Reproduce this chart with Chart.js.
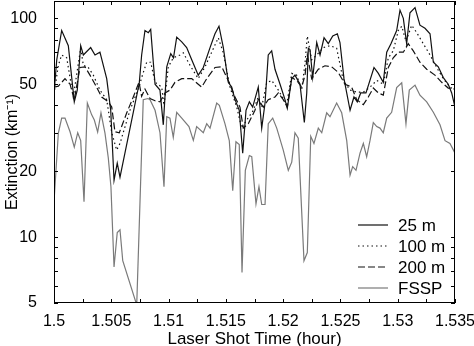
<!DOCTYPE html>
<html>
<head>
<meta charset="utf-8">
<script src="https://cdn.jsdelivr.net/npm/chart.js@4"></script>
<style>
  html, body { margin: 0; padding: 0; background: #fff; }
  #c { display: block; }
</style>
</head>
<body>
<canvas id="c" width="474" height="346"></canvas>
<script>
// Laser shot time (hour) and extinction (km-1) for each resolution
const m25Time = [1.50000, 1.50024, 1.50067, 1.50125, 1.50177, 1.50203, 1.50233, 1.50256, 1.50320, 1.50358,
  1.50401, 1.50460, 1.50495, 1.50524, 1.50552, 1.50576, 1.50744, 1.50765, 1.50794, 1.50823,
  1.50844, 1.50882, 1.50925, 1.50954, 1.50984, 1.51019, 1.51043, 1.51071, 1.51115, 1.51158,
  1.51202, 1.51259, 1.51303, 1.51362, 1.51405, 1.51440, 1.51478, 1.51521, 1.51551, 1.51580,
  1.51617, 1.51647, 1.51676, 1.51705, 1.51734, 1.51783, 1.51813, 1.51842, 1.51870, 1.51900,
  1.51929, 1.51973, 1.52016, 1.52036, 1.52075, 1.52103, 1.52147, 1.52185, 1.52206, 1.52220,
  1.52234, 1.52258, 1.52293, 1.52322, 1.52357, 1.52394, 1.52433, 1.52473, 1.52496, 1.52531,
  1.52584, 1.52618, 1.52647, 1.52677, 1.52723, 1.52793, 1.52831, 1.52874, 1.52904, 1.52941,
  1.52991, 1.53020, 1.53049, 1.53078, 1.53107, 1.53151, 1.53194, 1.53238, 1.53282, 1.53311,
  1.53354, 1.53398, 1.53441, 1.53471, 1.53500];
const m25Ext = [45.6, 64.6, 88, 75, 41.5, 47, 75, 68, 73.5, 68,
  70, 53, 38, 18.2, 21.8, 18.8, 50.5, 68, 88, 86,
  89, 50, 47, 32.6, 60, 69, 66, 82, 78, 73.5,
  64.6, 55, 59.6, 73.5, 85, 92, 73.5, 51, 48.5, 42.5,
  38, 24.2, 38, 41.5, 39.3, 48.5, 31.5, 41, 68, 71,
  58.5, 50, 42.5, 38.8, 53, 55, 50, 33.4, 45.6, 73,
  72, 53.6, 77.5, 68, 81.5, 76.6, 83, 85, 77.5, 53,
  38, 43.7, 41.5, 45.6, 45.6, 59.6, 56, 51, 70, 76.6,
  88, 109, 100, 76.6, 106, 112, 93, 90, 85, 63,
  60, 53.6, 50, 45.6, 39.3];

const m100Time = [1.50000, 1.50038, 1.50067, 1.50111, 1.50168, 1.50233, 1.50256, 1.50299, 1.50343, 1.50401,
  1.50460, 1.50504, 1.50547, 1.50576, 1.50663, 1.50742, 1.50765, 1.50809, 1.50844, 1.50882,
  1.50940, 1.50960, 1.50998, 1.51041, 1.51100, 1.51129, 1.51187, 1.51259, 1.51318, 1.51376,
  1.51434, 1.51478, 1.51536, 1.51595, 1.51638, 1.51682, 1.51740, 1.51783, 1.51813, 1.51856,
  1.51900, 1.51958, 1.52031, 1.52075, 1.52118, 1.52162, 1.52191, 1.52211, 1.52249, 1.52293,
  1.52350, 1.52409, 1.52467, 1.52525, 1.52584, 1.52642, 1.52700, 1.52758, 1.52817, 1.52874,
  1.52918, 1.52961, 1.53005, 1.53035, 1.53072, 1.53122, 1.53166, 1.53223, 1.53282, 1.53340,
  1.53398, 1.53456, 1.53500];
const m100Ext = [45, 61, 68, 66, 43.7, 73, 61, 59.6, 55, 47,
  42.5, 30, 25, 26.8, 38, 48.5, 53.6, 63, 63, 51,
  48.5, 40, 60, 66, 68, 69.5, 61, 53, 60, 70,
  81.5, 69.5, 48.5, 39.3, 31.5, 34.3, 38, 43.7, 39.3, 50.7,
  52, 47, 40.3, 56, 55, 47, 62.5, 83, 64.6, 68,
  73.5, 75, 73, 52, 47, 46, 46, 48.5, 52, 50,
  66, 71, 88, 92, 78.5, 93, 86, 76.6, 68, 59.6,
  53, 48.5, 47];

const m200Time = [1.50000, 1.50038, 1.50096, 1.50140, 1.50177, 1.50227, 1.50271, 1.50314, 1.50358, 1.50416,
  1.50474, 1.50504, 1.50532, 1.50570, 1.50635, 1.50692, 1.50742, 1.50765, 1.50794, 1.50838,
  1.50882, 1.50925, 1.50969, 1.51012, 1.51056, 1.51115, 1.51202, 1.51259, 1.51289, 1.51333,
  1.51405, 1.51464, 1.51521, 1.51580, 1.51623, 1.51652, 1.51696, 1.51754, 1.51783, 1.51827,
  1.51870, 1.51929, 1.51958, 1.52001, 1.52036, 1.52075, 1.52118, 1.52162, 1.52191, 1.52211,
  1.52249, 1.52307, 1.52365, 1.52424, 1.52481, 1.52540, 1.52598, 1.52642, 1.52700, 1.52743,
  1.52787, 1.52831, 1.52874, 1.52918, 1.52961, 1.53005, 1.53049, 1.53092, 1.53136, 1.53194,
  1.53253, 1.53325, 1.53384, 1.53441, 1.53500];
const m200Ext = [48.5, 49, 53, 50, 42.5, 59.6, 60, 55, 50, 43.7,
  41.5, 39.3, 30.3, 30, 37, 43.7, 51, 44, 47.5, 43,
  42, 41.5, 45.6, 47, 51, 53, 53, 50, 48.5, 53,
  59.6, 60, 52, 43.7, 39.3, 31.5, 33, 38, 42.5, 39.3,
  42.5, 43.7, 45.6, 42.5, 39.3, 53.6, 52, 48.5, 55, 68,
  53, 58.5, 60.7, 60, 56.6, 50, 48.5, 42.5, 40.3, 43.7,
  48, 45.6, 44.6, 59.6, 66, 70, 70, 76.6, 71, 63,
  58.5, 55, 51, 48, 47.5];

const fsspTime = [1.50000, 1.50038, 1.50067, 1.50096, 1.50140, 1.50177, 1.50207, 1.50233, 1.50262, 1.50291,
  1.50329, 1.50352, 1.50381, 1.50410, 1.50445, 1.50474, 1.50497, 1.50524, 1.50552, 1.50576,
  1.50600, 1.50722, 1.50779, 1.50820, 1.50838, 1.50882, 1.50925, 1.50960, 1.50984, 1.51012,
  1.51041, 1.51071, 1.51115, 1.51178, 1.51216, 1.51245, 1.51303, 1.51333, 1.51362, 1.51420,
  1.51443, 1.51492, 1.51530, 1.51560, 1.51588, 1.51617, 1.51641, 1.51670, 1.51705, 1.51726,
  1.51763, 1.51789, 1.51813, 1.51842, 1.51870, 1.51909, 1.51944, 1.52001, 1.52045, 1.52075,
  1.52103, 1.52132, 1.52182, 1.52211, 1.52241, 1.52269, 1.52307, 1.52337, 1.52380, 1.52409,
  1.52467, 1.52511, 1.52555, 1.52584, 1.52607, 1.52636, 1.52671, 1.52700, 1.52729, 1.52758,
  1.52787, 1.52817, 1.52845, 1.52874, 1.52904, 1.52947, 1.52991, 1.53035, 1.53072, 1.53101,
  1.53151, 1.53194, 1.53253, 1.53311, 1.53369, 1.53413, 1.53456, 1.53500];
const fsspExt = [14.5, 29.9, 35, 35, 30.3, 25.8, 30, 27.6, 14.5, 41,
  36.2, 34.3, 30.2, 37, 29.9, 23, 17, 7.3, 10.5, 10.8,
  7.8, 4.9, 42.5, 43, 42.5, 38, 30, 17, 35.5, 35,
  28.6, 37.2, 35, 32, 27.7, 32, 30, 33, 31.5, 41,
  40, 33, 27.6, 16.3, 27.3, 26.5, 6.9, 20.2, 23.6, 23.3,
  14.2, 17, 14.1, 14.1, 33, 35, 31.5, 25, 20.2, 22,
  30, 28.3, 7.8, 8.5, 28.9, 26.8, 31.5, 30, 37, 35.5,
  41, 37, 27.6, 19.2, 21, 20.2, 24.2, 26.8, 23.3, 27.6,
  33.4, 32, 31.5, 30, 35, 37.2, 48.2, 50.7, 33, 47,
  49.5, 44.5, 41.5, 37.2, 32.6, 27.6, 26.8, 24.2];

const seriesLabels = ['25 m', '100 m', '200 m', 'FSSP'];
const xTickValues = [1.5, 1.505, 1.51, 1.515, 1.52, 1.525, 1.53, 1.535];
const xTickLabels = ['1.5', '1.505', '1.51', '1.515', '1.52', '1.525', '1.53', '1.535'];
const yTickValues = [5, 10, 20, 50, 100];
const yTickLabels = ['5', '10', '20', '50', '100'];
const yMinorMarks = [5, 6, 7, 8, 9, 10, 20, 30, 40, 50, 60, 70, 80, 90, 100];

const FONT = "'Liberation Sans', Arial, sans-serif";

function pts(t, v) {
    return t.map((x, i) => ({ x: x, y: v[i] }));
}

// white background, box, inward ticks and the legend in the lower right corner
const framePlugin = {
    id: 'frame',
    beforeDraw(chart) {
        const ctx = chart.ctx;
        ctx.save();
        ctx.fillStyle = '#fff';
        ctx.fillRect(0, 0, chart.width, chart.height);
        ctx.restore();
    },
    afterDraw(chart) {
        const { ctx, chartArea: a, scales } = chart;
        const xs = scales.x, ys = scales.y;
        ctx.save();
        ctx.strokeStyle = '#000';
        ctx.lineWidth = 1;
        ctx.strokeRect(a.left + 0.5, a.top + 0.5, a.right - a.left - 1, a.bottom - a.top - 1);

        ctx.beginPath();
        for (let i = 0; i <= 14; i++) {
            const px = Math.round(xs.getPixelForValue(1.5 + i * 0.0025)) + 0.5;
            ctx.moveTo(px, a.bottom);
            ctx.lineTo(px, a.bottom - 4);
            ctx.moveTo(px, a.top);
            ctx.lineTo(px, a.top + 4);
        }
        yMinorMarks.forEach(v => {
            const py = Math.round(ys.getPixelForValue(v)) + 0.5;
            ctx.moveTo(a.left, py);
            ctx.lineTo(a.left + 4, py);
            ctx.moveTo(a.right, py);
            ctx.lineTo(a.right - 4, py);
        });
        ctx.stroke();

        // legend
        ctx.font = '17px ' + FONT;
        ctx.textAlign = 'left';
        ctx.textBaseline = 'middle';
        chart.data.datasets.forEach((ds, i) => {
            const y = a.bottom - 15 - (3 - i) * 21;
            ctx.strokeStyle = ds.borderColor;
            ctx.lineWidth = ds.borderWidth;
            ctx.setLineDash(ds.borderDash || []);
            ctx.beginPath();
            ctx.moveTo(a.right - 97, y);
            ctx.lineTo(a.right - 67, y);
            ctx.stroke();
            ctx.setLineDash([]);
            ctx.fillStyle = '#000';
            ctx.fillText(ds.label, a.right - 57, y + 1);
        });
        ctx.restore();
    }
};

new Chart(document.getElementById('c'), {
    type: 'line',
    data: {
        datasets: [
            { label: seriesLabels[0], data: pts(m25Time, m25Ext), borderColor: '#111', borderWidth: 1.2, borderDash: [] },
            { label: seriesLabels[1], data: pts(m100Time, m100Ext), borderColor: '#111', borderWidth: 1.2, borderDash: [1.5, 3] },
            { label: seriesLabels[2], data: pts(m200Time, m200Ext), borderColor: '#111', borderWidth: 1.2, borderDash: [7, 3] },
            { label: seriesLabels[3], data: pts(fsspTime, fsspExt), borderColor: '#7a7a7a', borderWidth: 1.2, borderDash: [] }
        ]
    },
    options: {
        responsive: false,
        animation: false,
        events: [],
        layout: { padding: { top: 1, right: 19, left: 0, bottom: 0 } },
        elements: {
            point: { radius: 0 },
            line: { tension: 0, fill: false }
        },
        scales: {
            x: {
                type: 'linear',
                min: 1.5,
                max: 1.535,
                afterFit: s => {
                    s.height = 43;
                    s.paddingLeft = 0;
                    s.paddingRight = 0;
                },
                afterBuildTicks: s => { s.ticks = xTickValues.map(v => ({ value: v })); },
                grid: { display: false },
                border: { display: false },
                ticks: {
                    color: '#000',
                    padding: 1,
                    maxRotation: 0,
                    autoSkip: false,
                    font: { family: FONT, size: 16 },
                    callback: v => xTickLabels[xTickValues.indexOf(v)]
                },
                title: {
                    display: true,
                    text: 'Laser Shot Time (hour)',
                    color: '#000',
                    padding: { top: 0, bottom: -2 },
                    font: { family: FONT, size: 17, lineHeight: 1 }
                }
            },
            y: {
                type: 'logarithmic',
                min: 5,
                max: 120,
                afterFit: s => {
                    s.width = 54;
                    s.paddingTop = 0;
                    s.paddingBottom = 0;
                },
                afterBuildTicks: s => { s.ticks = yTickValues.map(v => ({ value: v })); },
                grid: { display: false },
                border: { display: false },
                ticks: {
                    color: '#000',
                    padding: 9,
                    autoSkip: false,
                    font: { family: FONT, size: 16 },
                    callback: v => yTickLabels[yTickValues.indexOf(v)]
                },
                title: {
                    display: true,
                    text: 'Extinction (km⁻¹)',
                    color: '#000',
                    padding: { top: 5, bottom: 0 },
                    font: { family: FONT, size: 16, lineHeight: 1 }
                }
            }
        },
        plugins: {
            legend: { display: false },
            tooltip: { enabled: false }
        }
    },
    plugins: [framePlugin]
});
</script>
</body>
</html>
